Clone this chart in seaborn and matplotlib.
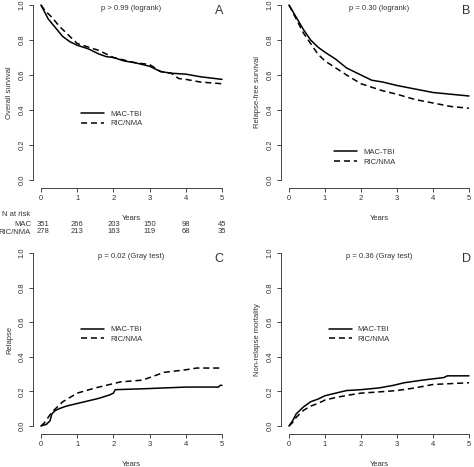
import matplotlib
matplotlib.use("Agg")
import matplotlib.pyplot as plt
import seaborn as sns

sns.set_style("white")
plt.rcParams['font.family'] = ['Liberation Sans', 'DejaVu Sans']

A_mac_t = [0,0.1,0.2,0.4,0.6,0.8,1,1.3,1.6,1.8,2,2.3,2.6,3,3.3,3.6,4,4.4,4.8,5]
A_mac_y = [1,0.96,0.92,0.87,0.82,0.79,0.77,0.75,0.72,0.705,0.70,0.68,0.67,0.65,0.62,0.61,0.605,0.59,0.58,0.575]
A_ric_t = [0,0.1,0.3,0.5,0.8,1,1.3,1.6,2,2.3,2.6,3,3.3,3.6,3.8,4,4.4,5]
A_ric_y = [1,0.97,0.93,0.88,0.82,0.78,0.76,0.74,0.70,0.685,0.67,0.66,0.62,0.61,0.58,0.575,0.56,0.55]
B_mac_t = [0,0.2,0.4,0.6,0.8,1,1.3,1.6,2,2.3,2.6,3,3.5,4,4.5,5]
B_mac_y = [1,0.93,0.86,0.80,0.76,0.73,0.69,0.64,0.60,0.57,0.56,0.54,0.52,0.50,0.49,0.48]
B_ric_t = [0,0.2,0.4,0.6,0.8,1,1.3,1.6,2,2.3,2.6,3,3.5,4,4.5,5]
B_ric_y = [1,0.92,0.84,0.78,0.72,0.68,0.64,0.60,0.55,0.53,0.51,0.49,0.46,0.44,0.42,0.41]
C_mac_t = [0,0.15,0.25,0.3,0.4,0.5,0.7,1,1.3,1.6,1.9,2.0,2.05,2.8,4,4.9,4.95,5]
C_mac_y = [0,0.01,0.03,0.07,0.09,0.10,0.115,0.13,0.145,0.16,0.18,0.19,0.21,0.215,0.225,0.225,0.235,0.235]
C_ric_t = [0,0.1,0.2,0.3,0.5,0.6,1,1.5,2,2.2,2.8,3,3.4,4,4.3,5]
C_ric_y = [0,0.02,0.05,0.08,0.12,0.14,0.19,0.22,0.245,0.255,0.265,0.28,0.31,0.325,0.335,0.335]
D_mac_t = [0,0.1,0.2,0.4,0.6,0.8,1,1.3,1.6,2,2.5,2.9,3.2,3.7,4.3,4.4,5]
D_mac_y = [0,0.03,0.07,0.11,0.14,0.155,0.175,0.19,0.205,0.21,0.22,0.235,0.25,0.265,0.28,0.29,0.29]
D_ric_t = [0,0.1,0.2,0.4,0.6,0.8,1,1.3,1.7,2,2.7,3,3.5,4,5]
D_ric_y = [0,0.02,0.05,0.09,0.115,0.13,0.15,0.165,0.18,0.19,0.2,0.205,0.22,0.24,0.25]

risk_times = [0,1,2,3,4,5]
risk_mac = [351,266,203,150,98,45]
risk_ric = [278,213,163,119,68,35]

W, H = 474, 467
fig = plt.figure(figsize=(W/100, H/100), dpi=100)
TC = '#333333'

def mkax(x0, x5, y1, y0):
    return fig.add_axes([x0/W, 1-y0/H, (x5-x0)/W, (y0-y1)/H])

panels = [
    (mkax(41,222,5,180), A_mac_t, A_mac_y, A_ric_t, A_ric_y, 'Overall survival', 'p > 0.99 (logrank)', 'A', (0.2, 0.42)),
    (mkax(289,469,5,180), B_mac_t, B_mac_y, B_ric_t, B_ric_y, 'Relapse-free survival', 'p = 0.30 (logrank)', 'B', (0.23, 0.2)),
    (mkax(41,222,253,426), C_mac_t, C_mac_y, C_ric_t, C_ric_y, 'Relapse', 'p = 0.02 (Gray test)', 'C', (0.2, 0.6)),
    (mkax(289,469,253,426), D_mac_t, D_mac_y, D_ric_t, D_ric_y, 'Non-relapse mortality', 'p = 0.36 (Gray test)', 'D', (0.2, 0.6)),
]
for ax, mt, my, rt, ry, ylab, ptxt, letter, lpos in panels:
    sns.lineplot(x=mt, y=my, ax=ax, color='black', lw=1.1, sort=False, label='MAC-TBI', clip_on=False)
    sns.lineplot(x=rt, y=ry, ax=ax, color='black', lw=1.1, sort=False, linestyle=(0,(4,2.5)), label='RIC/NMA', clip_on=False)
    ax.set_xlim(0,5); ax.set_ylim(0,1)
    for s in ['top','right']:
        ax.spines[s].set_visible(False)
    for s in ['left','bottom']:
        ax.spines[s].set_position(('outward', 6))
        ax.spines[s].set_color('#444444'); ax.spines[s].set_linewidth(0.7)
    ax.set_xticks([0,1,2,3,4,5]); ax.set_yticks([0,0.2,0.4,0.6,0.8,1.0])
    ax.set_yticklabels(['0.0','0.2','0.4','0.6','0.8','1.0'], rotation=90, va='center')
    ax.tick_params(axis='both', labelsize=5.5, colors='#444444', labelcolor=TC, length=3, width=0.7, left=True, bottom=True, pad=2)
    ax.set_ylabel(ylab, fontsize=5.5, color=TC, labelpad=4)
    ax.set_xlabel('Years', fontsize=5.5, color=TC, labelpad=9)
    ax.text(0.5, 1.0, ptxt, transform=ax.transAxes, ha='center', va='top', fontsize=5.5, color=TC)
    ax.text(1.01, 1.0, letter, transform=ax.transAxes, ha='right', va='top', fontsize=9, color=TC)
    ax.legend(loc='upper left', bbox_to_anchor=lpos, frameon=False, fontsize=5.5, handlelength=3, labelspacing=0.3, borderpad=0, labelcolor=TC)

axA = panels[0][0]
axA.xaxis.set_label_coords(0.5, -0.2)
trans = axA.get_xaxis_transform()
fig.text(2/W, 1-215/H, 'N at risk', fontsize=5.5, color=TC, va='center')
fig.text(31/W, 1-225/H, 'MAC', fontsize=5.5, color=TC, va='center', ha='right')
fig.text(31/W, 1-232/H, 'RIC/NMA', fontsize=5.5, color=TC, va='center', ha='right')
for t, m, r in zip(risk_times, risk_mac, risk_ric):
    axA.text(t + (0.05 if t == 0 else 0), -0.255, str(m), transform=trans, ha='center', va='center', fontsize=5.5, color=TC, clip_on=False)
    axA.text(t + (0.05 if t == 0 else 0), -0.295, str(r), transform=trans, ha='center', va='center', fontsize=5.5, color=TC, clip_on=False)
panels[1][0].xaxis.set_label_coords(0.5, -0.2)

fig.savefig('out.png', dpi=100)
